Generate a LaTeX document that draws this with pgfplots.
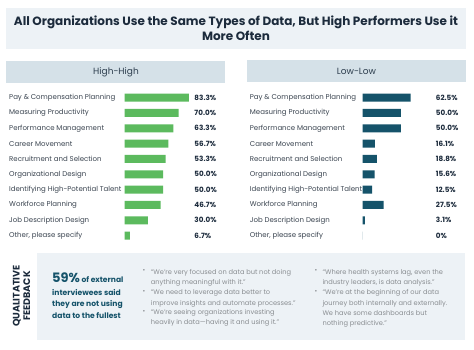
\documentclass[border=0pt]{standalone}
\usepackage{pgfplots}
\pgfplotsset{compat=1.18}
\usepackage{pgfplotstable}
\usepackage{fontspec}
\setmainfont{Poppins}
\definecolor{navy}{HTML}{1C2B3C}
\definecolor{hdr}{HTML}{D5E1E8}
\definecolor{lightbg}{HTML}{EDF2F6}
\definecolor{barg}{HTML}{5CBA5E}
\definecolor{bart}{HTML}{15536A}
\definecolor{txt}{HTML}{3A4450}
\definecolor{qcol}{HTML}{8A8E92}
\definecolor{hdrtxt}{HTML}{2D3E4E}

\pgfplotstableread{
row val lab
0 83.3 83.3
1 70.0 70.0
2 63.3 63.3
3 56.7 56.7
4 53.3 53.3
5 50.0 50.0
6 50.0 50.0
7 46.7 46.7
8 30.0 30.0
9 6.7 6.7
}\hightab
\pgfplotstableread{
row val lab
0 62.5 62.5
1 50.0 50.0
2 50.0 50.0
3 16.1 16.1
4 18.8 18.8
5 15.6 15.6
6 12.5 12.5
7 27.5 27.5
8 3.1 3.1
9 0 0
}\lowtab

\newcommand{\cats}{{Pay \& Compensation Planning},{Measuring Productivity},{Performance Management},{Career Movement},{Recruitment and Selection},{Organizational Design},{Identifying High-Potential Talent},{Workforce Planning},{Job Description Design},{Other, please specify}}

\pgfplotsset{panel/.style={
  scale only axis, width=216pt, height=153.3pt,
  ymin=-0.5, ymax=9.5, y dir=reverse,
  axis line style={draw=none}, tick style={draw=none}, major tick length=0pt,
  xtick=\empty, ytick={0,...,9},
  yticklabel style={anchor=west, inner sep=0pt, font=\fontsize{7}{8}\selectfont, text=txt},
  clip=false}}

\newcommand{\ql}[3]{\node[anchor=west, inner sep=0pt, text height=1.5ex, text depth=.3ex, font=\fontsize{6.65}{8}\selectfont, text=qcol] at (#1,-#2) {#3};}
\newcommand{\qb}[2]{\node[inner sep=0pt, font=\fontsize{6.65}{8}\selectfont, text=qcol] at (#1,-#2) {•};}

\begin{document}
\begin{tikzpicture}
\begin{scope}[x=1pt,y=1pt]
\fill[white] (0,0) rectangle (474,-350);
% title
\fill[lightbg] (6,-8) rectangle (466,-49);
\node[align=center, text=navy, font=\bfseries\fontsize{12}{15}\selectfont] at (236,-28) {All Organizations Use the Same Types of Data, But High Performers Use it\\More Often};
% headers
\fill[hdr] (6,-61) rectangle (225,-83);
\fill[hdr] (247,-60) rectangle (466,-82);
\node[text=hdrtxt, font=\fontsize{9}{10}\selectfont] at (116,-72) {High-High};
\node[text=hdrtxt, font=\fontsize{9}{10}\selectfont] at (356.5,-71) {Low-Low};
% feedback
\fill[lightbg] (37,-253) rectangle (465,-340);
\node[rotate=90, align=center, text=navy, font=\bfseries\fontsize{9.5}{10.7}\selectfont] at (21.5,-296) {QUALITATIVE\\FEEDBACK};
\node[anchor=base west, inner sep=0pt, text=bart] at (52,-282.5) {\bfseries\fontsize{13}{14}\selectfont 59\%\fontsize{7.6}{9}\selectfont\ of external};
\node[anchor=base west, inner sep=0pt, text=bart, font=\bfseries\fontsize{7.6}{9}\selectfont] at (52,-295) {interviewees said};
\node[anchor=base west, inner sep=0pt, text=bart, font=\bfseries\fontsize{7.6}{9}\selectfont] at (52,-306.5) {they are not using};
\node[anchor=base west, inner sep=0pt, text=bart, font=\bfseries\fontsize{7.6}{9}\selectfont] at (52,-318) {data to the fullest};

\qb{144}{271}\qb{144}{291.7}\qb{144}{311.7}
\ql{150.7}{271}{“We’re very focused on data but not doing}
\ql{150.7}{281.3}{anything meaningful with it.”}
\ql{150.7}{291.7}{“We need to leverage data better to}
\ql{150.7}{302}{improve insights and automate processes.”}
\ql{150.7}{311.7}{“We’re seeing organizations investing}
\ql{150.7}{321.3}{heavily in data—having it and using it.”}

\qb{316}{271}\qb{316}{291.7}
\ql{322.3}{271}{“Where health systems lag, even the}
\ql{322.3}{281.3}{industry leaders, is data analysis.”}
\ql{322.3}{291.7}{“We’re at the beginning of our data}
\ql{322.3}{302}{journey both internally and externally.}
\ql{322.3}{312}{We have some dashboards but}
\ql{322.3}{322}{nothing predictive.”}
\end{scope}

\begin{axis}[panel, at={(9pt,-90pt)}, anchor=north west,
  xmin=-150.3, xmax=130.3, yticklabels/.expanded=\cats]
\addplot[xbar, bar width=8pt, fill=barg, draw=none] table[x=val, y=row]{\hightab};
\addplot[draw=none, mark=none, point meta=explicit symbolic,
  nodes near coords={\pgfplotspointmeta\%},
  nodes near coords style={anchor=west, inner sep=0pt, text=navy, font=\bfseries\fontsize{7.2}{8}\selectfont}]
  table[x expr=90.4, y=row, meta=lab]{\hightab};
\end{axis}

\begin{axis}[panel, at={(249.7pt,-90pt)}, anchor=north west,
  xmin=-146.8, xmax=134.2, yticklabels/.expanded=\cats]
\addplot[xbar, bar width=8pt, fill=bart, draw=none] table[x=val, y=row]{\lowtab};
\addplot[draw=none, mark=none, point meta=explicit symbolic,
  nodes near coords={\pgfplotspointmeta\%},
  nodes near coords style={anchor=west, inner sep=0pt, text=navy, font=\bfseries\fontsize{7.2}{8}\selectfont}]
  table[x expr=95.2, y=row, meta=lab]{\lowtab};
\end{axis}
\end{tikzpicture}
\end{document}
